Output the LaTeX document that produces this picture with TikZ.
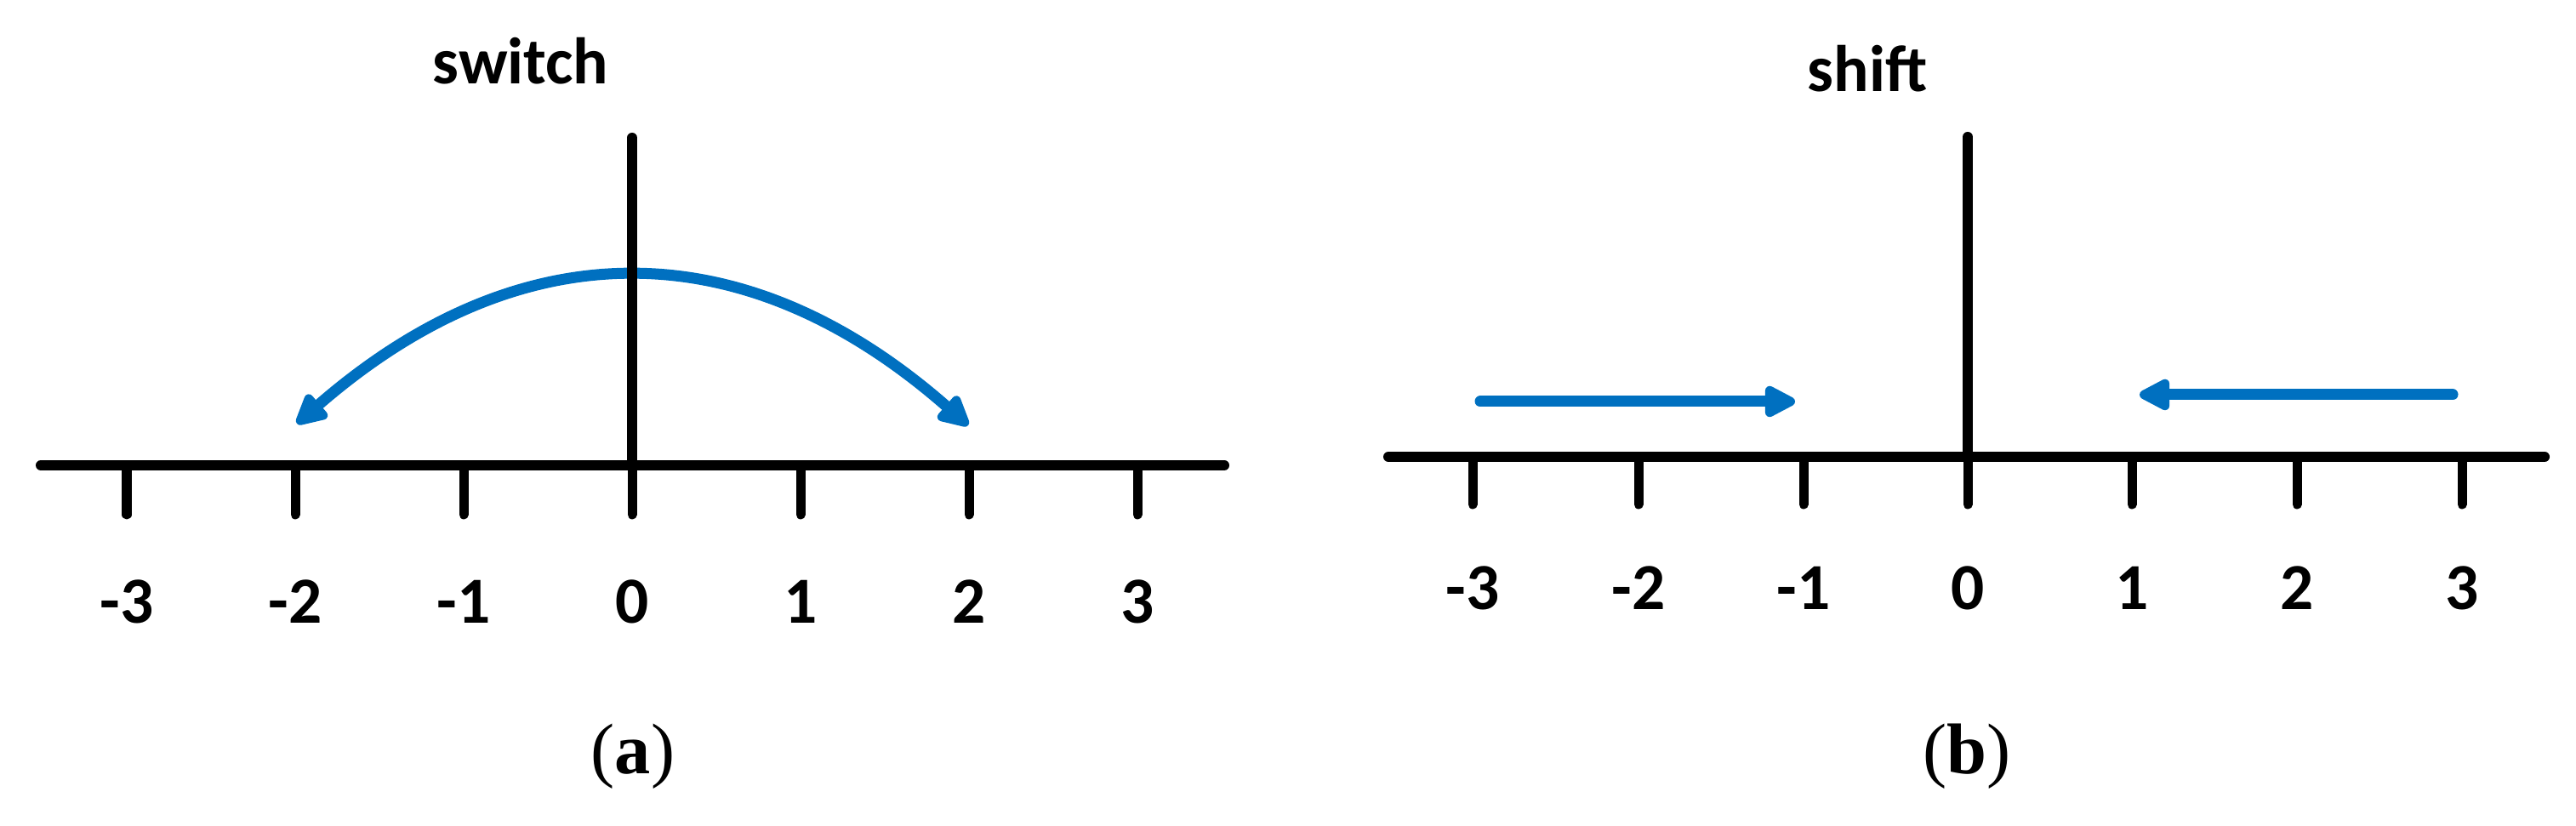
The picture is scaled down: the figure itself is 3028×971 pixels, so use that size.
\documentclass[tikz,border=0pt]{standalone}
\usepackage{fontspec}
\setmainfont{Liberation Serif}
\newfontfamily\lblfont{Carlito}
\usetikzlibrary{arrows.meta}
\definecolor{arrowblue}{RGB}{0,112,192}
\begin{document}
\begin{tikzpicture}[x=0.01cm,y=-0.01cm,
  axisline/.style={line width=0.12cm, line cap=round},
  tickline/.style={line width=0.11cm, line cap=round},
  blueline/.style={arrowblue, line width=0.13cm, line cap=round},
  bluetip/.style={-{Triangle[length=0.42cm,width=0.40cm,round]}},
  bluetips/.style={{Triangle[length=0.42cm,width=0.40cm,round]}-{Triangle[length=0.42cm,width=0.40cm,round]}},
  numlbl/.style={font=\lblfont\bfseries\fontsize{22}{24}\selectfont, anchor=base, inner sep=0pt},
  titlelbl/.style={font=\lblfont\bfseries\fontsize{22}{24}\selectfont, anchor=base, inner sep=0pt},
  caplbl/.style={font=\fontsize{24}{27}\selectfont, anchor=base, inner sep=0pt}]
\useasboundingbox (0,0) rectangle (3028,971);

% ---------- panel (a) ----------
\node[titlelbl] (atitle) at (612,99) {switch};
\coordinate (aL) at (48,547);
\coordinate (aR) at (1439,547);
\coordinate (aO) at (743,547);
\coordinate (aTop) at (743,162);
\coordinate (arcL) at (349,498);
\coordinate (arcR) at (1138,500);
\draw[blueline, bluetips] (arcL) .. controls (612,269) and (875,269) .. (arcR);
\draw[axisline] (aL) -- (aR);
\draw[axisline] (aO) -- (aTop);
\foreach \k/\x/\t in {1/149/-3,2/347/-2,3/545/-1,4/743/0,5/941/1,6/1139/2,7/1337/3}{
  \coordinate (atick\k) at (\x,547);
  \coordinate (atickend\k) at (\x,605);
  \draw[tickline] (atick\k) -- (atickend\k);
  \node[numlbl] (anum\k) at (\x,733) {\t};
}
\node[caplbl] (acap) at (744,910) {(\textbf{a})};

% ---------- panel (b) ----------
\node[titlelbl] (btitle) at (2195,108) {shift};
\coordinate (bL) at (1632,537);
\coordinate (bR) at (2991,537);
\coordinate (bO) at (2313,537);
\coordinate (bTop) at (2313,161);
\draw[axisline] (bL) -- (bR);
\draw[axisline] (bO) -- (bTop);
\foreach \k/\x/\t in {1/1731/-3,2/1926/-2,3/2120/-1,4/2313/0,5/2506/1,6/2700/2,7/2894/3}{
  \coordinate (btick\k) at (\x,537);
  \coordinate (btickend\k) at (\x,593);
  \draw[tickline] (btick\k) -- (btickend\k);
  \node[numlbl] (bnum\k) at (\x,717) {\t};
}
\coordinate (blA) at (1740,472);
\coordinate (blB) at (2110,472);
\coordinate (brA) at (2883,464);
\coordinate (brB) at (2515,464);
\draw[blueline, bluetip] (blA) -- (blB);
\draw[blueline, bluetip] (brA) -- (brB);
\node[caplbl] (bcap) at (2312,910) {(\textbf{b})};
\end{tikzpicture}
\end{document}
